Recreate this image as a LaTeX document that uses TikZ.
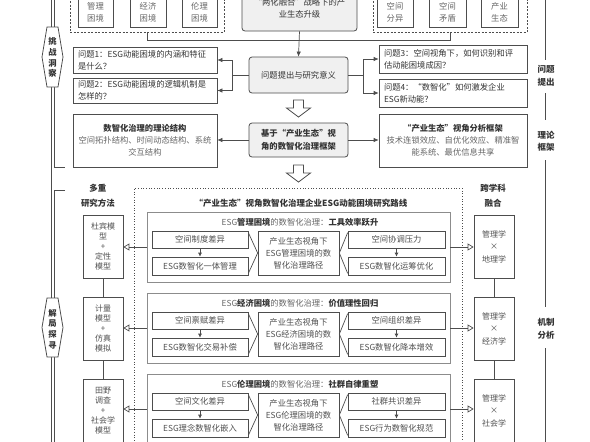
\documentclass[tikz,border=0pt]{standalone}
\usepackage{fontspec}
\setmainfont{Noto Sans CJK SC}
\usetikzlibrary{arrows.meta,calc}
\definecolor{ln}{HTML}{4D4D4D}
\definecolor{tx}{HTML}{333333}
\definecolor{gt}{HTML}{666666}
\definecolor{mt}{HTML}{505050}
\definecolor{fl}{HTML}{F0F0F0}
\definecolor{pl}{HTML}{8C8C8C}
\tikzset{
  base/.style={font=\fontsize{8.3}{12}\selectfont, text=tx, inner sep=0pt, align=center},
  gbox/.style={base, draw=ln, fill=fl, rounded corners=3pt, line width=0.8pt},
  wbox/.style={base, draw=ln, fill=white, line width=0.7pt},
  pbox/.style={wbox, text=mt},
  qbox/.style={wbox, align=left, inner xsep=5pt},
  dbox/.style={draw=ln, line width=0.6pt, dash pattern=on 2pt off 1.5pt},
  panel/.style={draw=pl, line width=0.7pt, fill=white},
  conn/.style={draw=ln, line width=0.7pt},
  arr/.style={conn, -{Latex[length=5pt,width=4.5pt]}},
  sarr/.style={conn, -{Latex[length=4pt,width=4pt]}},
  oarr/.style={conn, -{Triangle[open,length=6pt,width=7pt]}},
  barr/.style={draw=ln, fill=white, line width=0.8pt, line join=miter},
  lbl/.style={base, font=\fontsize{8.5}{15}\selectfont\bfseries},
  rlbl/.style={base, font=\fontsize{8.5}{12.5}\selectfont\bfseries},
  vlbl/.style={base, font=\fontsize{8.3}{10.7}\selectfont\bfseries},
  mbox/.style={wbox, font=\fontsize{8}{10}\selectfont, text=mt, minimum width=40pt, minimum height=63pt},
  kbox/.style={wbox, font=\fontsize{8}{12.5}\selectfont, text=mt, minimum width=40pt, minimum height=63pt},
  ibox/.style={wbox, text=gt, minimum height=30pt},
  ptitle/.style={base, text=gt},
}
\begin{document}
\begin{tikzpicture}[x=1pt,y=-1pt]
\useasboundingbox (0,0) rectangle (590,442);
\clip (0,0) rectangle (590,442);
\fill[white] (0,0) rectangle (590,442);

% ---------- side rails ----------
\draw[conn] (51.5,-5) -- (51.5,450);
\draw[conn] (54.5,-5) -- (54.5,167) -- (65,167);
\draw[conn] (65,190) -- (54.5,190) -- (54.5,450);
\draw[barr] (47,27) -- (58,27) -- (63,57) -- (58,87) -- (47,87) -- (42,57) -- cycle;
\draw[barr] (47,298) -- (58,298) -- (63,327.5) -- (58,357) -- (47,357) -- (42,327.5) -- cycle;
\node[vlbl] (h1) at (52.5,57.5) {挑\\战\\洞\\察};
\node[vlbl] (h2) at (52.5,329) {解\\局\\探\\寻};

\draw[conn] (545.5,-5) -- (545.5,60);
\draw[conn] (545.5,93) -- (545.5,120);
\draw[conn] (545.5,160) -- (545.5,307);
\draw[conn] (545.5,348) -- (545.5,450);
\node[rlbl] (r1) at (546,76) {问题\\提出};
\node[rlbl] (r2) at (546,141.5) {理论\\框架};
\node[rlbl] (r3) at (546,329) {机制\\分析};

% ---------- top row ----------
\node[dbox, minimum width=154pt, minimum height=40pt] (dl) at (147,12) {};
\node[ibox, minimum width=35pt] (k1) at (95.5,12) {管理\\困境};
\node[ibox, minimum width=36pt] (k2) at (148,12) {经济\\困境};
\node[ibox, minimum width=35pt] (k3) at (199.5,12) {伦理\\困境};
\node[dbox, minimum width=154pt, minimum height=40pt] (dr) at (450,12) {};
\node[ibox, minimum width=36pt] (k4) at (395,12) {空间\\分异};
\node[ibox, minimum width=37pt] (k5) at (447.5,12) {空间\\矛盾};
\node[ibox, minimum width=37pt] (k6) at (499.5,12) {产业\\生态};
\node[gbox, minimum width=115pt, minimum height=46pt] (top) at (299.5,8) {“两化融合”战略下的产\\业生态升级};

% ---------- row 2 ----------
\node[gbox, minimum width=99pt, minimum height=36pt] (q0) at (298.5,75) {问题提出与研究意义};
\node[qbox, text width=134pt, minimum height=26pt] (q1) at (145,60) {问题1：ESG动能困境的内涵和特征\\是什么？};
\node[qbox, text width=134pt, minimum height=25pt] (q2) at (145,90.5) {问题2：ESG动能困境的逻辑机制是\\怎样的？};
\node[qbox, text width=138pt, minimum height=28pt] (q3) at (453,59) {问题3：空间视角下，如何识别和评\\估动能困境成因？};
\node[qbox, text width=138pt, minimum height=28pt] (q4) at (453,93) {问题4：“数智化”如何激发企业\\ESG新动能？};

\coordinate (j) at (299.5,40);
\draw[conn] (dl.south) |- (j);
\draw[conn] (dr.south) |- (j);
\draw[arr] (top.south) -- (q0.north);
\coordinate (bl) at (232,75);
\coordinate (br) at (363,75);
\draw[conn] (q0.west) -- (bl);
\draw[arr] (bl) |- (q1.east);
\draw[arr] (bl) |- (q2.east);
\draw[conn] (q0.east) -- (br);
\draw[arr] (br) |- (q3.west);
\draw[arr] (br) |- (q4.west);

% hollow arrows
\coordinate (a1) at (298.5,100);
\draw[barr] (a1) ++(-5,0) -- ++(10,0) -- ++(0,8) -- ++(7,0) -- ++(-12,9) -- ++(-12,-9) -- ++(7,0) -- cycle;
\coordinate (a2) at (298.5,165);
\draw[barr] (a2) ++(-5,0) -- ++(10,0) -- ++(0,8) -- ++(7,0) -- ++(-12,9) -- ++(-12,-9) -- ++(7,0) -- cycle;

% ---------- row 3 ----------
\node[gbox, minimum width=99pt, minimum height=34pt, font=\fontsize{8.3}{12.5}\selectfont\bfseries] (f0) at (298.5,140) {基于“产业生态”视\\角的数智化治理框架};
\node[wbox, minimum width=144pt, minimum height=53pt] (tl) at (145,140.5) {\textbf{数智化治理的理论结构}\\\textcolor{gt}{空间拓扑结构、时间动态结构、系统}\\\textcolor{gt}{交互结构}};
\node[wbox, minimum width=148pt, minimum height=53pt] (tr) at (453,140.5) {\textbf{“产业生态”视角分析框架}\\\textcolor{gt}{技术连锁效应、自优化效应、精准智}\\\textcolor{gt}{能系统、最优信息共享}};
\draw[arr] (f0.west) -- (f0.west -| tl.east);
\draw[arr] (f0.east) -- (f0.east -| tr.west);

% ---------- row 4 ----------
\node[draw=ln, dotted, line width=0.7pt, minimum width=328pt, minimum height=280pt] (big) at (298,328) {};
\node[base, font=\fontsize{8.5}{12}\selectfont\bfseries] (bt) at (301,203) {“产业生态”视角数智化治理企业ESG动能困境研究路线};
\node[lbl] (mt) at (98,195.5) {多重\\研究方法};
\node[lbl] (xt) at (493,195.5) {跨学科\\融合};

% panel 1
\node[panel, minimum width=303pt, minimum height=70pt] (p1) at (298.5,247) {};
\node[ptitle] (p1t) at (300,222) {ESG\textcolor{tx}{\textbf{管理困境}}的数智化治理：\textcolor{tx}{\textbf{工具效率跃升}}};
\node[pbox, minimum width=96pt, minimum height=17pt] (p1a) at (200,239.5) {空间制度差异};
\node[pbox, minimum width=96pt, minimum height=18pt] (p1b) at (200,266) {ESG数智化一体管理};
\node[pbox, minimum width=81pt, minimum height=44pt] (p1c) at (298.5,253) {产业生态视角下\\ESG管理困境的数\\智化治理路径};
\node[pbox, minimum width=97pt, minimum height=17pt] (p1d) at (396.5,239.5) {空间协调压力};
\node[pbox, minimum width=97pt, minimum height=18pt] (p1e) at (396.5,266) {ESG数智化运筹优化};
\draw[sarr] (p1a) -- (p1b);
\draw[sarr] (p1d) -- (p1e);
\draw[conn] ([yshift=-2pt]p1a.north east) -- (p1c.west) -- ([yshift=2pt]p1b.south east);
\draw[conn] ([yshift=-2pt]p1d.north west) -- (p1c.east) -- ([yshift=2pt]p1e.south west);

% panel 2
\node[panel, minimum width=303pt, minimum height=70pt] (p2) at (298.5,328) {};
\node[ptitle] (p2t) at (300,303) {ESG\textcolor{tx}{\textbf{经济困境}}的数智化治理：\textcolor{tx}{\textbf{价值理性回归}}};
\node[pbox, minimum width=96pt, minimum height=17pt] (p2a) at (200,320.5) {空间禀赋差异};
\node[pbox, minimum width=96pt, minimum height=18pt] (p2b) at (200,347) {ESG数智化交易补偿};
\node[pbox, minimum width=81pt, minimum height=44pt] (p2c) at (298.5,334) {产业生态视角下\\ESG经济困境的数\\智化治理路径};
\node[pbox, minimum width=97pt, minimum height=17pt] (p2d) at (396.5,320.5) {空间组织差异};
\node[pbox, minimum width=97pt, minimum height=18pt] (p2e) at (396.5,347) {ESG数智化降本增效};
\draw[sarr] (p2a) -- (p2b);
\draw[sarr] (p2d) -- (p2e);
\draw[conn] ([yshift=-2pt]p2a.north east) -- (p2c.west) -- ([yshift=2pt]p2b.south east);
\draw[conn] ([yshift=-2pt]p2d.north west) -- (p2c.east) -- ([yshift=2pt]p2e.south west);

% panel 3
\node[panel, minimum width=303pt, minimum height=70pt] (p3) at (298.5,409) {};
\node[ptitle] (p3t) at (300,384) {ESG\textcolor{tx}{\textbf{伦理困境}}的数智化治理：\textcolor{tx}{\textbf{社群自律重塑}}};
\node[pbox, minimum width=96pt, minimum height=17pt] (p3a) at (200,401.5) {空间文化差异};
\node[pbox, minimum width=96pt, minimum height=18pt] (p3b) at (200,428) {ESG理念数智化嵌入};
\node[pbox, minimum width=81pt, minimum height=44pt] (p3c) at (298.5,415) {产业生态视角下\\ESG伦理困境的数\\智化治理路径};
\node[pbox, minimum width=97pt, minimum height=17pt] (p3d) at (396.5,401.5) {社群共识差异};
\node[pbox, minimum width=97pt, minimum height=18pt] (p3e) at (396.5,428) {ESG行为数智化规范};
\draw[sarr] (p3a) -- (p3b);
\draw[sarr] (p3d) -- (p3e);
\draw[conn] ([yshift=-2pt]p3a.north east) -- (p3c.west) -- ([yshift=2pt]p3b.south east);
\draw[conn] ([yshift=-2pt]p3d.north west) -- (p3c.east) -- ([yshift=2pt]p3e.south west);

% method boxes
\node[mbox] (m1) at (103,246.5) {杜宾模\\型\\+\\定性\\模型};
\node[mbox] (m2) at (103,328.5) {计量\\模型\\+\\仿真\\模拟};
\node[mbox] (m3) at (103,410.5) {田野\\调查\\+\\社会学\\模型};
\draw[conn] (m1) -- (m2);
\draw[conn] (m2) -- (m3);
\draw[oarr] (p1.west) -- (p1.west -| m1.east);
\draw[oarr] (p2.west) -- (p2.west -| m2.east);
\draw[oarr] (p3.west) -- (p3.west -| m3.east);

% discipline boxes
\node[kbox] (d1) at (494,246.5) {管理学\\×\\地理学};
\node[kbox] (d2) at (494,328.5) {管理学\\×\\经济学};
\node[kbox] (d3) at (494,410.5) {管理学\\×\\社会学};
\draw[conn] (d1) -- (d2);
\draw[conn] (d2) -- (d3);
\draw[oarr] (p1.east) -- (p1.east -| d1.west);
\draw[oarr] (p2.east) -- (p2.east -| d2.west);
\draw[oarr] (p3.east) -- (p3.east -| d3.west);
\end{tikzpicture}
\end{document}
